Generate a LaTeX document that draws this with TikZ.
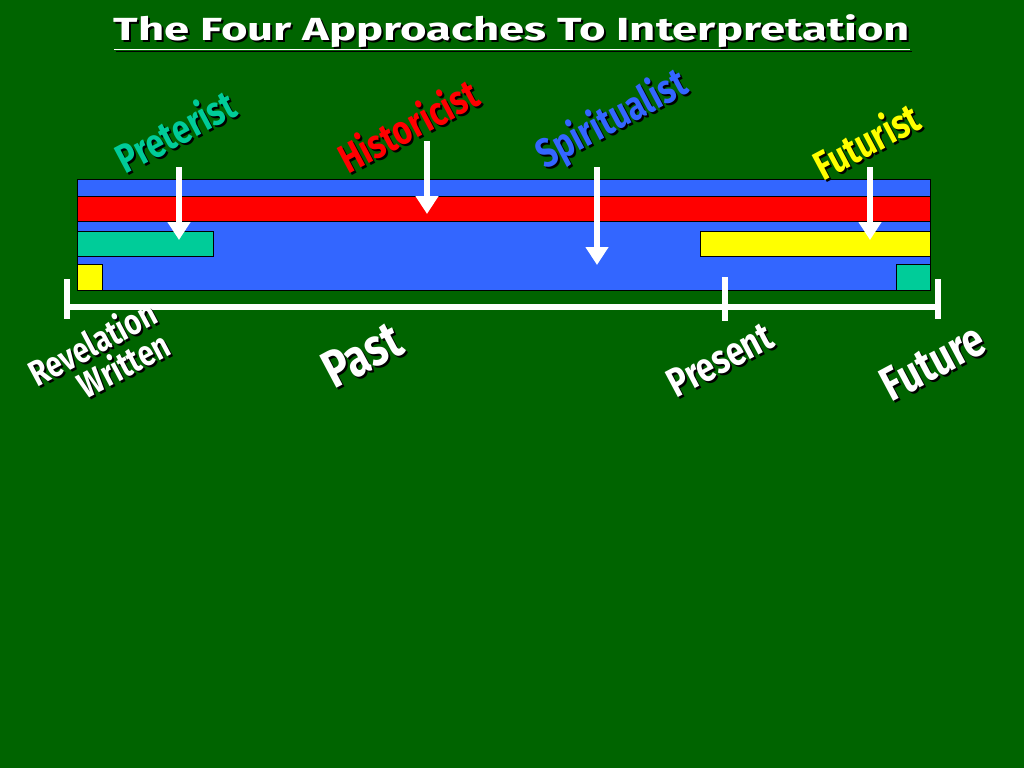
\documentclass[tikz,border=0pt]{standalone}
\usepackage{fontspec}
\setmainfont{Fira Sans}
\usetikzlibrary{arrows.meta}
\definecolor{bggreen}{RGB}{0,100,0}
\definecolor{barblue}{RGB}{51,102,255}
\definecolor{barteal}{RGB}{0,204,153}
\definecolor{baryellow}{RGB}{255,255,0}
\begin{document}
\begin{tikzpicture}[x=1pt,y=-1pt]
				\tikzstyle{bar}=[draw=black, line width=1pt]
				\tikzstyle{downarrow}=[draw=white, line width=6pt, -{Triangle[length=18pt,width=22pt]}]
				\tikzstyle{tline}=[draw=white, line width=6pt]
				\tikzstyle{word}=[font=\bfseries\fontsize{34}{34}\selectfont, rotate=28, yscale=1.2, xscale=0.95, align=center, inner sep=0pt]
				\tikzstyle{shade}=[word, text=black]
				\tikzstyle{heading}=[font=\bfseries\fontsize{32}{32}\selectfont, xscale=1.42]
				\newcommand\YTop{179}
				\newcommand\YBot{290}
				\newcommand\XLeft{77}
				\newcommand\XRight{930}

				% Background
				\fill [bggreen] (0,0) rectangle (1024,768);

				% Title
				\node [heading, text=black] at (514,34) (titleshade) {\underline{The Four Approaches To Interpretation}};
				\node [heading, text=white] at (512,32) (title) {\underline{The Four Approaches To Interpretation}};

				% Bars
				\path [bar, fill=barblue] (\XLeft,\YTop) rectangle (\XRight,\YBot);
				\path [bar, fill=red] (\XLeft,196) rectangle (\XRight,221);
				\path [bar, fill=barteal] (\XLeft,231) rectangle (213,256);
				\path [bar, fill=baryellow] (700,231) rectangle (\XRight,256);
				\path [bar, fill=baryellow] (\XLeft,264) rectangle (102,\YBot);
				\path [bar, fill=barteal] (896,264) rectangle (\XRight,\YBot);

				% Approaches
				\node [shade] at (177,132) {Preterist};
				\node [word, text=barteal] at (175,130) (pret) {Preterist};
				\node [shade] at (410,127) {Historicist};
				\node [word, text=red] at (408,125) (hist) {Historicist};
				\node [shade] at (614,122) {Spiritualist};
				\node [word, text=barblue] at (612,120) (spir) {Spiritualist};
				\node [shade] at (868,142) {Futurist};
				\node [word, text=baryellow] at (866,140) (fut) {Futurist};

				\coordinate (a1s) at (179,167); \coordinate (a1e) at (179,240);
				\coordinate (a2s) at (427,141); \coordinate (a2e) at (427,214);
				\coordinate (a3s) at (597,167); \coordinate (a3e) at (597,265);
				\coordinate (a4s) at (870,167); \coordinate (a4e) at (870,240);
				\path [downarrow] (a1s) -- (a1e);
				\path [downarrow] (a2s) -- (a2e);
				\path [downarrow] (a3s) -- (a3e);
				\path [downarrow] (a4s) -- (a4e);

				% Time line
				\coordinate (tl) at (67,307); \coordinate (tr) at (938,307);
				\path [tline] (tl) -- (tr);
				\path [tline] (67,279) -- (67,319);
				\path [tline] (725,277) -- (725,321);
				\path [tline] (938,279) -- (938,319);

				% Times
				\node [shade, font=\bfseries\fontsize{30}{28}\selectfont] at (102,359) {Revelation\\\hspace*{1.2em}Written};
				\node [word, text=white, font=\bfseries\fontsize{30}{28}\selectfont] at (100,357) (rev) {Revelation\\\hspace*{1.2em}Written};
				\node [shade, font=\bfseries\fontsize{44}{44}\selectfont] at (364,357) {Past};
				\node [word, text=white, font=\bfseries\fontsize{44}{44}\selectfont] at (362,355) (past) {Past};
				\node [shade] at (722,362) {Present};
				\node [word, text=white] at (720,360) (pres) {Present};
				\node [shade, font=\bfseries\fontsize{40}{40}\selectfont] at (935,364) {Future};
				\node [word, text=white, font=\bfseries\fontsize{40}{40}\selectfont] at (933,362) (futr) {Future};
			\end{tikzpicture}
\end{document}
